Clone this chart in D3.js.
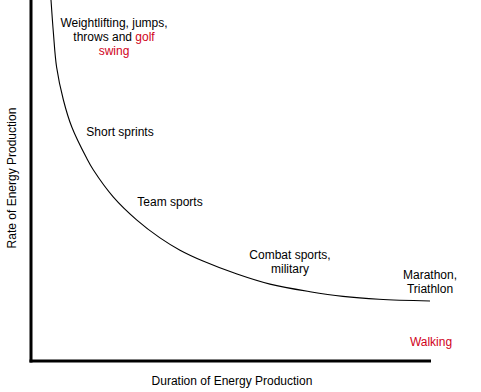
<!DOCTYPE html>
<html><head><meta charset="utf-8">
<script src="https://cdn.jsdelivr.net/npm/d3@7"></script>
<style>html,body{margin:0;padding:0;background:#fff;}svg{display:block;}</style>
</head><body>
<script>
// Curve data (abstract units: duration 0-100, rate 0-100)
const duration = [5.0, 5.6, 6.4, 8.1, 10.2, 13.9, 15.6, 20.6, 26.4, 32.25, 37.25, 43, 51.5, 59.75, 69.75, 78, 87, 99.75];
const rate     = [100, 90.9, 81.4, 72.3, 64.8, 56.2, 52.9, 45.4, 39.1, 34.1, 30.7, 27.7, 24.1, 21.3, 19.2, 17.9, 17.1, 16.6];
// Annotation labels (text segments; flag 1 = red)
const labelLines = [
  [["Weightlifting, jumps,", 0]],
  [["throws and ", 0], ["golf", 1]],
  [["swing", 1]],
  [["Short sprints", 0]],
  [["Team sports", 0]],
  [["Combat sports,", 0]],
  [["military", 0]],
  [["Marathon,", 0]],
  [["Triathlon", 0]],
  [["Walking", 1]]
];
const labelAt = [[20.75,92.5],[20.75,88.6],[20.75,84.8],[22.25,62.3],[34.75,42.9],[64.75,28.3],[64.75,24.4],[99.75,22.7],[99.75,18.8],[100,4.2]];
const xTitle = "Duration of Energy Production";
const yTitle = "Rate of Energy Production";

const W = 481, H = 392;
const svg = d3.select("body").append("svg").attr("width", W).attr("height", H);
const x = d3.scaleLinear().domain([0, 100]).range([31, 431]);
const y = d3.scaleLinear().domain([0, 100]).range([361, 0]);
const font = "'Liberation Sans', Arial, Helvetica, sans-serif";
const red = "#d0021b";

// axes
svg.append("line").attr("x1", x(0)).attr("x2", x(0)).attr("y1", 0).attr("y2", y(0) + 1.5)
  .attr("stroke", "#000").attr("stroke-width", 3);
svg.append("line").attr("x1", x(0) - 1.5).attr("x2", x(100)).attr("y1", y(0)).attr("y2", y(0))
  .attr("stroke", "#000").attr("stroke-width", 3);

// curve
const pts = duration.map((d, i) => [d, rate[i]]);
svg.append("path").datum(pts)
  .attr("d", d3.line().x(d => x(d[0])).y(d => y(d[1])).curve(d3.curveCatmullRom.alpha(0.5)))
  .attr("fill", "none").attr("stroke", "#000").attr("stroke-width", 1.1);

// labels
labelLines.forEach((segs, i) => {
  const t = svg.append("text").attr("x", x(labelAt[i][0])).attr("y", y(labelAt[i][1]))
    .attr("text-anchor", "middle").attr("font-family", font).attr("font-size", 12);
  segs.forEach(s => t.append("tspan").text(s[0]).attr("fill", s[1] ? red : "#000"));
});

// titles
svg.append("text").attr("x", 232).attr("y", 385).attr("text-anchor", "middle")
  .attr("font-family", font).attr("font-size", 12).attr("fill", "#000").text(xTitle);
svg.append("text").attr("transform", "translate(16,178) rotate(-90)").attr("text-anchor", "middle")
  .attr("font-family", font).attr("font-size", 12).attr("fill", "#000").text(yTitle);
</script>
</body></html>
